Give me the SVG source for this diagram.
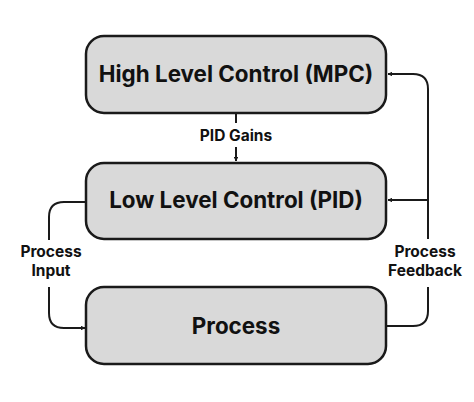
<svg xmlns="http://www.w3.org/2000/svg" width="474" height="402" viewBox="0 0 474 402">
<defs>
<style>
.box{fill:#d9d9d9;stroke:#1a1a1a;stroke-width:2.5}
.t{font-family:Inter,"Noto Sans",sans-serif;font-weight:700;fill:#111;text-anchor:middle}
.big{font-size:22.4px}
.lbl{font-size:15.5px}
.ln{fill:none;stroke:#1a1a1a;stroke-width:2}
</style>
<marker id="ah" viewBox="0 0 10 10" refX="9" refY="5" markerWidth="4.5" markerHeight="4.5" orient="auto" markerUnits="userSpaceOnUse">
<path d="M0,0 L10,5 L0,10 z" fill="#1a1a1a"/>
</marker>
</defs>
<rect width="474" height="402" fill="#fff"/>
<g id="connectors">
<path class="ln" d="M236,113 V123"/>
<path class="ln" d="M236,147 V161" marker-end="url(#ah)"/>
<path class="ln" d="M386,326 H413 Q428,326 428,311 V287"/>
<path class="ln" d="M428,239 V89 Q428,74 413,74 H388" marker-end="url(#ah)"/>
<path class="ln" d="M428,200 H388" marker-end="url(#ah)"/>
<path class="ln" d="M86,202 H64 Q49,202 49,217 V240"/>
<path class="ln" d="M49,287 V313 Q49,328 64,328 H85" marker-end="url(#ah)"/>
<text class="t lbl" x="236" y="141">PID Gains</text>
<text class="t lbl" x="425" y="257">Process</text>
<text class="t lbl" x="425" y="276">Feedback</text>
<text class="t lbl" x="51" y="257">Process</text>
<text class="t lbl" x="51" y="276">Input</text>
</g>
<g id="mpc">
<rect class="box" x="86" y="36" width="300" height="77" rx="18"/>
<text class="t big" x="236" y="82">High Level Control (MPC)</text>
</g>
<g id="pid">
<rect class="box" x="86" y="163" width="300" height="76" rx="18"/>
<text class="t big" x="236" y="208">Low Level Control (PID)</text>
</g>
<g id="process">
<rect class="box" x="86" y="287" width="300" height="77" rx="18"/>
<text class="t big" x="236" y="334">Process</text>
</g>
</svg>
